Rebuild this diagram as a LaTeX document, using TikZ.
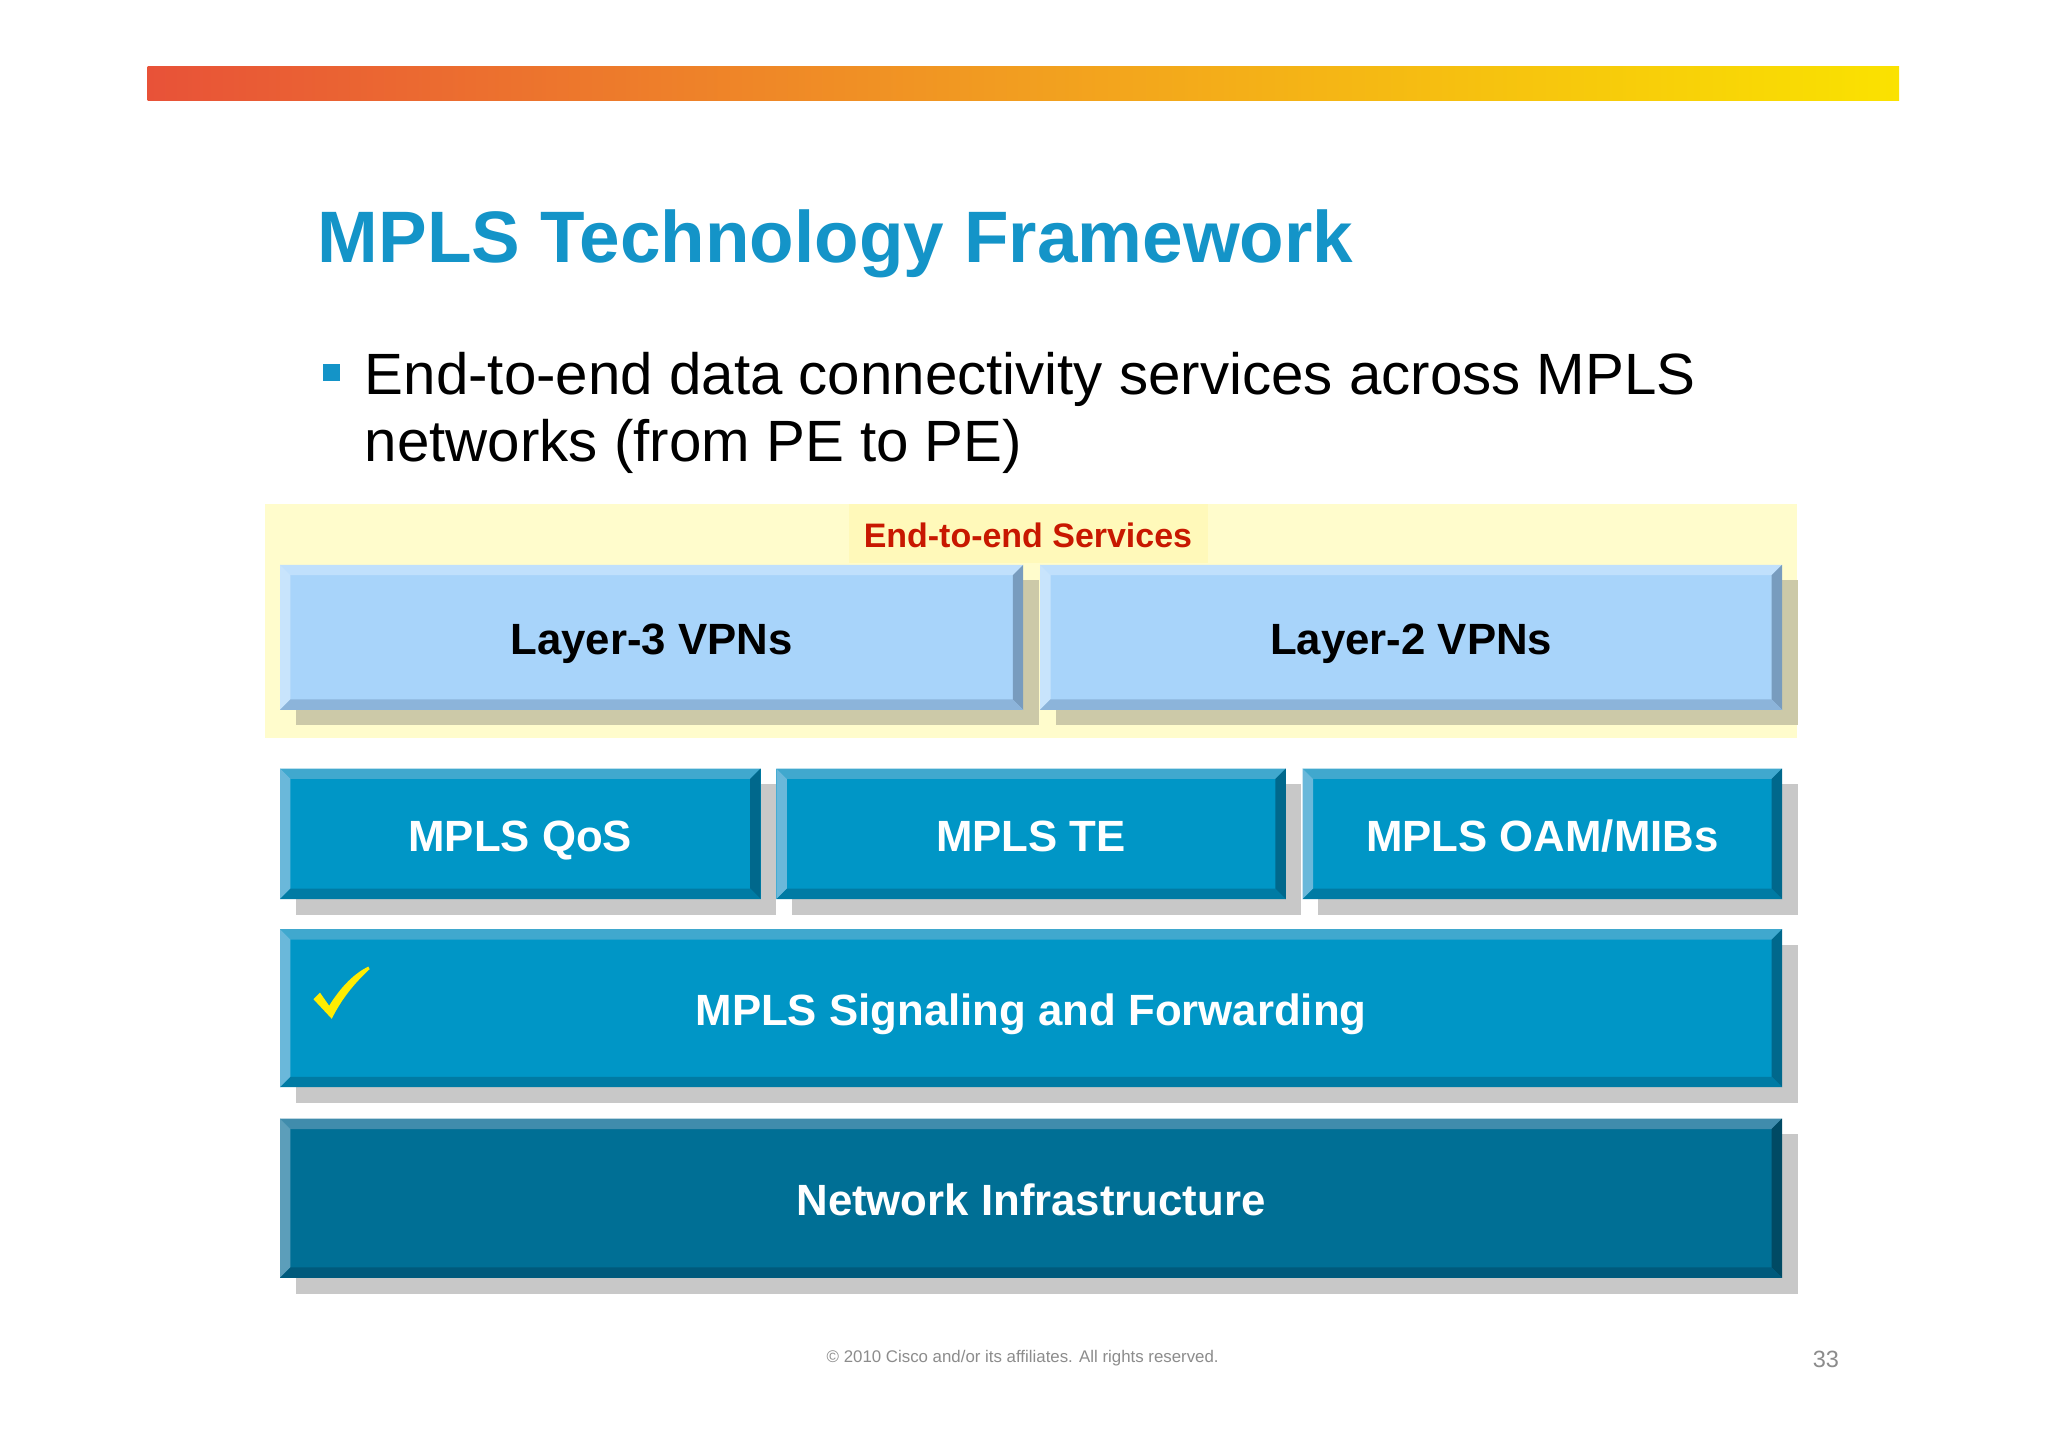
\documentclass[tikz,border=0pt]{standalone}
\usepackage{fontspec}
\setmainfont{Liberation Sans}
\usetikzlibrary{shadows}
\definecolor{ciscoblue}{RGB}{20,148,200}
\definecolor{barred}{RGB}{232,82,56}
\definecolor{barorange}{RGB}{242,158,32}
\definecolor{baryellow}{RGB}{250,226,0}
\definecolor{panelyellow}{RGB}{255,252,204}
\definecolor{tabyellow}{RGB}{255,249,186}
\definecolor{svcred}{RGB}{200,24,0}
\definecolor{lfill}{RGB}{168,212,250}
\definecolor{ltop}{RGB}{192,224,252}
\definecolor{lleft}{RGB}{200,228,252}
\definecolor{lright}{RGB}{120,156,190}
\definecolor{lbot}{RGB}{140,180,218}
\definecolor{lshadow}{RGB}{204,201,168}
\definecolor{bfill}{RGB}{0,150,198}
\definecolor{btop}{RGB}{64,168,206}
\definecolor{bleft}{RGB}{106,184,218}
\definecolor{bright}{RGB}{0,104,140}
\definecolor{bbot}{RGB}{0,123,164}
\definecolor{dfill}{RGB}{0,111,149}
\definecolor{dtop}{RGB}{64,140,172}
\definecolor{dleft}{RGB}{92,158,186}
\definecolor{dright}{RGB}{0,74,100}
\definecolor{dbot}{RGB}{0,90,124}
\definecolor{gshadow}{RGB}{200,200,200}
\definecolor{footgray}{RGB}{140,140,140}
\begin{document}
\begin{tikzpicture}[x=0.5pt,y=-0.5pt,
  bevel/.style n args={4}{path picture={
    \fill[#1] (path picture bounding box.north west) -- (path picture bounding box.north east)
      -- ([shift={(-4pt,-4pt)}]path picture bounding box.north east)
      -- ([shift={(4pt,-4pt)}]path picture bounding box.north west) -- cycle;
    \fill[#2] (path picture bounding box.north west) -- (path picture bounding box.south west)
      -- ([shift={(4pt,4pt)}]path picture bounding box.south west)
      -- ([shift={(4pt,-4pt)}]path picture bounding box.north west) -- cycle;
    \fill[#3] (path picture bounding box.north east) -- (path picture bounding box.south east)
      -- ([shift={(-4pt,4pt)}]path picture bounding box.south east)
      -- ([shift={(-4pt,-4pt)}]path picture bounding box.north east) -- cycle;
    \fill[#4] (path picture bounding box.south west) -- (path picture bounding box.south east)
      -- ([shift={(-4pt,4pt)}]path picture bounding box.south east)
      -- ([shift={(4pt,4pt)}]path picture bounding box.south west) -- cycle;
  }},
  boxbase/.style={anchor=north west, inner sep=0pt, align=center, text height=13.4pt, text depth=0pt,
     font=\bfseries\fontsize{16.75}{20}\selectfont},
  lightbox/.style={boxbase, fill=lfill, text=black, bevel={ltop}{lleft}{lright}{lbot},
     drop shadow={fill=lshadow, opacity=1, shadow xshift=6pt, shadow yshift=-6pt}},
  bluebox/.style={boxbase, fill=bfill, text=white, bevel={btop}{bleft}{bright}{bbot},
     drop shadow={fill=gshadow, opacity=1, shadow xshift=6pt, shadow yshift=-6pt}},
  darkbox/.style={boxbase, fill=dfill, text=white, bevel={dtop}{dleft}{dright}{dbot},
     drop shadow={fill=gshadow, opacity=1, shadow xshift=6pt, shadow yshift=-6pt}},
  plaintext/.style={inner sep=0pt, anchor=base west}
]
\useasboundingbox[fill=white] (0,0) rectangle (1568,1108);
% top gradient bar
\shade[left color=barred, right color=baryellow, middle color=barorange] (113,51) rectangle (1454,77);
% title
\node[plaintext, text=ciscoblue, font=\bfseries\fontsize{27.9}{32}\selectfont] (title) at (243,201) {MPLS Technology Framework};
% bullet
\fill[ciscoblue] (247,279) rectangle (260,292);
\node[plaintext, font=\fontsize{22.3}{26}\selectfont] (bl1) at (279,302) {End-to-end data connectivity services across MPLS};
\node[plaintext, font=\fontsize{22.3}{26}\selectfont] (bl2) at (279,353) {networks (from PE to PE)};
% services panel
\fill[panelyellow] (203,386) rectangle (1376,565);
\fill[tabyellow] (650,386) rectangle (925,431);
\node[text=svcred, font=\bfseries\fontsize{13}{16}\selectfont, inner sep=0pt, anchor=base] (svc) at (787,419) {End-to-end Services};
% boxes
\node[lightbox, minimum width=284.5pt, minimum height=55.5pt] (l3) at (214,432) {Layer-3 VPNs};
\node[lightbox, minimum width=284pt, minimum height=55.5pt] (l2) at (796,432) {Layer-2 VPNs};
\node[bluebox, minimum width=184pt, minimum height=50pt] (qos) at (214,588) {MPLS QoS};
\node[bluebox, minimum width=195pt, minimum height=50pt] (te) at (594,588) {MPLS TE};
\node[bluebox, minimum width=183.5pt, minimum height=50pt] (oam) at (997,588) {MPLS OAM/MIBs};
\node[bluebox, minimum width=575pt, minimum height=60.5pt] (sig) at (214,711) {MPLS Signaling and Forwarding};
\node[darkbox, minimum width=575pt, minimum height=61pt] (net) at (214,856) {Network Infrastructure};
% check mark
\fill[yellow!95!orange] (240,765) -- (245,760) -- (252,770) .. controls (262,754) and (272,745) .. (282,740)
  -- (283,742) .. controls (270,754) and (261,766) .. (254,780) -- cycle;
% footer
\node[text=footgray, font=\fontsize{6.45}{8}\selectfont, inner sep=0pt, anchor=base] (foot) at (783,1043) {\textcopyright{} 2010 Cisco and/or its affiliates. All rights reserved.};
\node[text=footgray, font=\fontsize{9}{10}\selectfont, inner sep=0pt, anchor=base] (page) at (1398,1047) {33};
\end{tikzpicture}
\end{document}
